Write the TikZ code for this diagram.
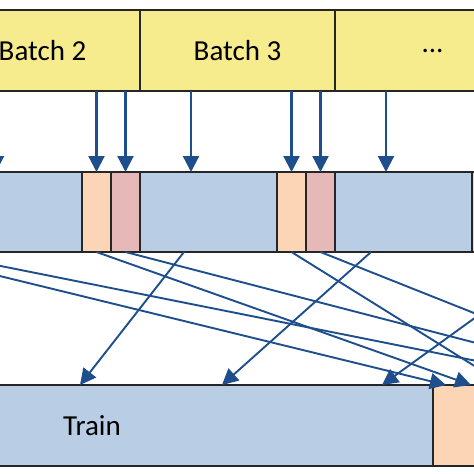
\documentclass[tikz,border=0pt]{standalone}
\usepackage{fontspec}
\setmainfont{Carlito}
\usepackage{color}
\usetikzlibrary{positioning,arrows.meta}

\definecolor{batchyellow}{HTML}{F6EC8D}
\definecolor{trainblue}{HTML}{B9CDE5}
\definecolor{valorange}{HTML}{FBD5B5}
\definecolor{testred}{HTML}{E6B9B8}
\definecolor{arrowblue}{HTML}{1F4E8C}

\tikzset{
  part/.style={draw=black!85, line width=1.1pt, inner sep=0pt, outer sep=0pt, minimum height=80pt, font=\fontsize{29}{34}\selectfont},
  batchbox/.style={part, fill=batchyellow, minimum width=195pt, minimum height=81pt},
  trnbox/.style={part, fill=trainblue, minimum width=137pt},
  valbox/.style={part, fill=valorange, minimum width=29pt},
  tstbox/.style={part, fill=testred, minimum width=29pt},
  feed/.style={arrowblue, line width=2.2pt, -{Triangle[width=16pt,length=16pt]}},
  pick/.style={arrowblue, line width=1.9pt, -{Triangle[width=16pt,length=16pt]}}
}

\begin{document}
\begin{tikzpicture}[x=1pt, y=-1pt]

\useasboundingbox (0,0) rectangle (474,474);

\clip (0,0) rectangle (474,474);

\node[batchbox, anchor=north west] (b2) at (-55,10) {Batch 2};

\node[batchbox, right=0pt of b2] (b3) {Batch 3};

\node[batchbox, right=0pt of b3] (b4) {...};

\foreach \k in {1,...,5} {
  \node[trnbox, anchor=north west] (trn\k) at ({195*\k-445},172) {};
  \node[valbox, right=0pt of trn\k] (val\k) {};
  \node[tstbox, right=0pt of val\k] (tst\k) {};
}

\node[trnbox, anchor=north east, minimum width=682pt, minimum height=81pt] (train) at (433,385) {Train};

\node[valbox, right=0pt of train, minimum width=195pt, minimum height=81pt] (val) {};

\foreach \k in {2,3,4} {
  \coordinate (in\k) at ([xshift=51pt]trn\k.north west);
  \draw[feed] (in\k |- b\k.south) -- (in\k);
  \draw[feed] (val\k.north |- b\k.south) -- (val\k.north);
  \draw[feed] (tst\k.north |- b\k.south) -- (tst\k.north);
}

\draw[pick] (tst1.south) -- ([xshift=164pt]val.north west);

\draw[pick] (val1.south) -- ([xshift=13pt]val.north west);

\draw[pick] (val2.south) -- ([xshift=38pt]val.north west);

\draw[pick] (tst2.south) -- ([xshift=205pt]val.north west);

\draw[pick] ([xshift=44pt]trn3.south west) -- ([xshift=-353pt]val.north west);

\draw[pick] (val3.south) -- ([xshift=72pt]val.north west);

\draw[pick] (tst3.south) -- ([xshift=222pt]val.north west);

\draw[pick] ([xshift=36pt]trn4.south west) -- ([xshift=-211pt]val.north west);

\draw[pick] ([xshift=36pt]trn5.south west) -- ([xshift=-51pt]val.north west);

\end{tikzpicture}
\end{document}
